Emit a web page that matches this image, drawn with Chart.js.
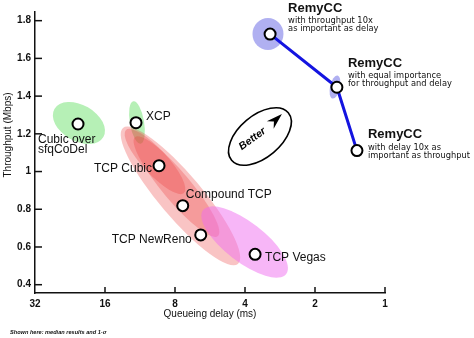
<!DOCTYPE html>
<html><head><meta charset="utf-8">
<script src="https://cdn.jsdelivr.net/npm/chart.js@4.4.1/dist/chart.umd.min.js"></script>
<style>html,body{margin:0;padding:0;background:#fff;}#wrap{width:474px;height:338px;}</style>
</head><body><div id="wrap"><canvas id="c" width="474" height="338"></canvas></div>
<script>
// ---- data ----
const protocolNames = ['Cubic over\nsfqCoDel', 'XCP', 'TCP Cubic', 'Compound TCP', 'TCP NewReno', 'TCP Vegas'];
const protocolDelay = [20.9, 11.77, 9.37, 7.41, 6.2, 3.62];          // ms (median)
const protocolThroughput = [1.252, 1.259, 1.031, 0.819, 0.664, 0.561]; // Mbps (median)

const remyNames = ['RemyCC', 'RemyCC', 'RemyCC'];
const remySubtitles = [
  'with throughput 10x\nas important as delay',
  'with equal importance\nfor throughput and delay',
  'with delay 10x as\nimportant as throughput'
];
const remyDelay = [3.12, 1.61, 1.32];
const remyThroughput = [1.729, 1.447, 1.111];

const xTicks = [32, 16, 8, 4, 2, 1];
const yTicks = [0.4, 0.6, 0.8, 1.0, 1.2, 1.4, 1.6, 1.8];

// 1-sigma ellipses: major-axis endpoints (delay, throughput) and minor/major ratio
const ellipseNames   = ['Cubic over sfqCoDel', 'XCP', 'TCP NewReno', 'Compound TCP', 'TCP Cubic', 'TCP Vegas', 'RemyCC 10x tput', 'RemyCC equal'];
const ellipseDelayA  = [26.4, 12.09, 13.39, 11.89, 13.0, 6.06, 3.714, 1.601];
const ellipseTputA   = [1.332, 1.373, 1.231, 1.183, 1.2205, 0.796, 1.729, 1.509];
const ellipseDelayB  = [16.26, 11.24, 4.29, 5.23, 7.32, 2.66, 2.733, 1.682];
const ellipseTputB   = [1.183, 1.148, 0.51, 0.658, 0.886, 0.457, 1.729, 1.387];
const ellipseRatio   = [0.64, 0.33, 0.24, 0.22, 0.29, 0.38, 1.03, 0.42];

const betterAt = {delay: 3.45, tput: 1.186};

// ---- styles ----
const ellipseColors = ['rgba(110,225,110,0.5)', 'rgba(110,225,110,0.5)',
  'rgba(235,60,60,0.3)', 'rgba(235,60,60,0.3)', 'rgba(235,60,60,0.3)',
  'rgba(240,110,240,0.5)', 'rgba(80,80,225,0.45)', 'rgba(80,80,225,0.45)'];
// label offsets from point (px): dx, dy, align
const protoLabelStyle = [
  {dx: -40, dy: 16, align: 'left'},
  {dx: 10, dy: -6, align: 'left'},
  {dx: -7, dy: 3, align: 'right'},
  {dx: 3, dy: -11, align: 'left'},
  {dx: -9, dy: 5, align: 'right'},
  {dx: 10, dy: 3, align: 'left'}
];
const remyLabelStyle = [
  {dx: 18, dy: -26},
  {dx: 11, dy: -24},
  {dx: 11, dy: -16}
];

const ellipsePlugin = {
  id: 'ellipses',
  beforeDatasetsDraw(chart) {
    const {ctx, scales: {x, y}} = chart;
    ctx.save();
    for (let i = 0; i < ellipseNames.length; i++) {
      const x1 = x.getPixelForValue(ellipseDelayA[i]), y1 = y.getPixelForValue(ellipseTputA[i]);
      const x2 = x.getPixelForValue(ellipseDelayB[i]), y2 = y.getPixelForValue(ellipseTputB[i]);
      const cx = (x1 + x2) / 2, cy = (y1 + y2) / 2;
      const a = Math.hypot(x2 - x1, y2 - y1) / 2;
      const ang = Math.atan2(y2 - y1, x2 - x1);
      ctx.beginPath();
      ctx.ellipse(cx, cy, a, a * ellipseRatio[i], ang, 0, Math.PI * 2);
      ctx.fillStyle = ellipseColors[i];
      ctx.fill();
    }
    ctx.restore();
  }
};

const decorPlugin = {
  id: 'decor',
  afterDraw(chart) {
    const {ctx, chartArea: ca, scales: {x, y}} = chart;
    ctx.save();
    // inside tick marks
    ctx.strokeStyle = '#111'; ctx.lineWidth = 1.5;
    xTicks.forEach(v => {
      if (v === 32) return;
      const px = x.getPixelForValue(v);
      ctx.beginPath(); ctx.moveTo(px, ca.bottom); ctx.lineTo(px, ca.bottom - 6); ctx.stroke();
    });
    yTicks.forEach(v => {
      const py = y.getPixelForValue(v);
      ctx.beginPath(); ctx.moveTo(ca.left, py); ctx.lineTo(ca.left + 7, py); ctx.stroke();
    });
    // axis titles
    ctx.fillStyle = '#111';
    ctx.font = '10px "Liberation Sans"';
    ctx.textAlign = 'center'; ctx.textBaseline = 'middle';
    ctx.fillText('Queueing delay (ms)', (ca.left + ca.right) / 2, 314);
    ctx.save();
    ctx.translate(8, 135); ctx.rotate(-Math.PI / 2);
    ctx.fillText('Throughput (Mbps)', 0, 0);
    ctx.restore();
    ctx.textAlign = 'left';
    ctx.font = 'italic bold 5.6px "Liberation Sans"';
    ctx.fillText('Shown here: median results and 1-\u03c3', 10, 332);

    // protocol labels
    ctx.font = '12px "Liberation Sans"';
    ctx.textBaseline = 'middle';
    protocolNames.forEach((name, i) => {
      const px = x.getPixelForValue(protocolDelay[i]), py = y.getPixelForValue(protocolThroughput[i]);
      const st = protoLabelStyle[i];
      ctx.textAlign = st.align;
      const lines = name.split('\n');
      lines.forEach((ln, k) => ctx.fillText(ln, px + st.dx, py + st.dy + k * 10));
    });
    // RemyCC labels
    remyNames.forEach((name, i) => {
      const px = x.getPixelForValue(remyDelay[i]), py = y.getPixelForValue(remyThroughput[i]);
      const st = remyLabelStyle[i];
      ctx.textAlign = 'left';
      ctx.font = 'bold 13px "Liberation Sans"';
      ctx.fillText(name, px + st.dx, py + st.dy);
      ctx.font = '8.3px "DejaVu Sans"';
      remySubtitles[i].split('\n').forEach((ln, k) => ctx.fillText(ln, px + st.dx, py + st.dy + 13 + k * 8));
    });

    // "Better" annotation
    const bx = x.getPixelForValue(betterAt.delay), by = y.getPixelForValue(betterAt.tput);
    ctx.strokeStyle = '#000'; ctx.lineWidth = 1.6;
    ctx.beginPath(); ctx.ellipse(bx, by, 37, 21, -40 * Math.PI / 180, 0, Math.PI * 2); ctx.stroke();
    ctx.save();
    ctx.translate(bx - 7.5, by + 2.5); ctx.rotate(-36 * Math.PI / 180);
    ctx.font = 'italic bold 10.5px "Liberation Sans"';
    ctx.textAlign = 'center'; ctx.fillStyle = '#000';
    ctx.fillText('Better', 0, 0);
    ctx.restore();
    ctx.beginPath();
    ctx.moveTo(bx + 22, by - 22.5);
    ctx.lineTo(bx + 13.7, by - 7.8);
    ctx.lineTo(bx + 14, by - 15);
    ctx.lineTo(bx + 6.9, by - 15.2);
    ctx.closePath();
    ctx.fillStyle = '#000'; ctx.fill();
    ctx.restore();
  }
};

const pointStyle = {pointRadius: 5.5, pointBackgroundColor: '#fff', pointBorderColor: '#000', pointBorderWidth: 2};

new Chart(document.getElementById('c'), {
  type: 'scatter',
  data: {
    datasets: [
      Object.assign({
        label: 'RemyCC',
        data: remyDelay.map((d, i) => ({x: d, y: remyThroughput[i]})),
        showLine: true, borderColor: '#1414e0', borderWidth: 3
      }, pointStyle),
      Object.assign({
        label: 'Protocols',
        data: protocolDelay.map((d, i) => ({x: d, y: protocolThroughput[i]})),
        showLine: false
      }, pointStyle)
    ]
  },
  options: {
    responsive: false, animation: false,
    layout: {padding: {left: 0, top: 12, right: 89, bottom: 0}},
    plugins: {legend: {display: false}, tooltip: {enabled: false}},
    font: {family: '"Liberation Sans"'},
    scales: {
      x: {
        type: 'logarithmic', reverse: true, min: 1, max: 32,
        afterBuildTicks: s => { s.ticks = xTicks.map(v => ({value: v})); },
        afterFit: s => { s.height = 45; },
        grid: {display: false, drawTicks: false},
        border: {display: true, color: '#111', width: 1.5},
        ticks: {padding: 5, color: '#111', autoSkip: false, maxRotation: 0,
          font: {family: '"Liberation Sans"', size: 10, weight: 'bold'},
          callback: v => String(v)}
      },
      y: {
        min: 0.356, max: 1.846,
        afterBuildTicks: s => { s.ticks = yTicks.map(v => ({value: v})); },
        afterFit: s => { s.width = 35; },
        grid: {display: false, drawTicks: false},
        border: {display: true, color: '#111', width: 1.5},
        ticks: {padding: 4, color: '#111', autoSkip: false,
          font: {family: '"Liberation Sans"', size: 10, weight: 'bold'},
          callback: v => String(v)}
      }
    }
  },
  plugins: [ellipsePlugin, decorPlugin]
});
</script>
</body></html>
